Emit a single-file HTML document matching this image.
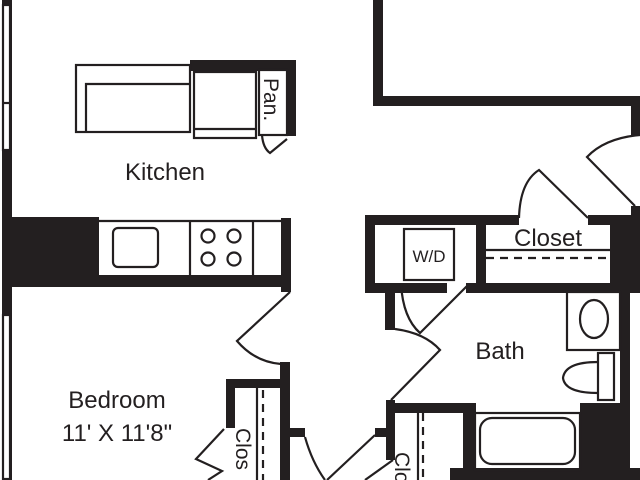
<!DOCTYPE html>
<html><head><style>html,body{margin:0;background:#fff;width:640px;height:480px;overflow:hidden}svg{display:block;overflow:hidden}text{font-family:"Liberation Sans",sans-serif;fill:#231f20}</style></head><body>
<svg width="640" height="480" viewBox="0 0 640 480" xmlns="http://www.w3.org/2000/svg">
<g fill="#231f20" stroke="none">
<rect x="2" y="0" width="10" height="152"/>
<rect x="2" y="150" width="10" height="165"/>
<rect x="2" y="313" width="10" height="167"/>
<rect x="10" y="217" width="89" height="70"/>
<rect x="10" y="275" width="281" height="12"/>
<rect x="281" y="218" width="10" height="74"/>
<rect x="190" y="60" width="106" height="11"/>
<rect x="287" y="60" width="9" height="76"/>
<rect x="373" y="0" width="10" height="106"/>
<rect x="373" y="96" width="267" height="10"/>
<rect x="631" y="96" width="9" height="40"/>
<rect x="631" y="206" width="9" height="20"/>
<rect x="365" y="215" width="154" height="10"/>
<rect x="588" y="215" width="52" height="10"/>
<rect x="610" y="215" width="30" height="76"/>
<rect x="365" y="215" width="10" height="77"/>
<rect x="476" y="225" width="10" height="63"/>
<rect x="365" y="283" width="82" height="10"/>
<rect x="466" y="283" width="174" height="10"/>
<rect x="385" y="283" width="10" height="47"/>
<rect x="620" y="290" width="10" height="190"/>
<rect x="386" y="400" width="9" height="60"/>
<rect x="386" y="403" width="90" height="10"/>
<rect x="375" y="428" width="12" height="9"/>
<rect x="463" y="403" width="12" height="77"/>
<rect x="580" y="403" width="50" height="67"/>
<rect x="450" y="468" width="190" height="12"/>
<rect x="226" y="379" width="64" height="9"/>
<rect x="226" y="379" width="9" height="49"/>
<rect x="280" y="362" width="10" height="118"/>
<rect x="290" y="428" width="15" height="9"/>
</g>
<g fill="none" stroke="#231f20" stroke-width="2.2">
<rect x="3" y="5" width="7" height="145" fill="#fff"/>
<line x1="3" y1="103" x2="10" y2="103"/>
<rect x="3" y="315" width="7" height="164" fill="#fff"/>
<rect x="76" y="65" width="114" height="67"/>
<polyline points="86,132 86,84 190,84"/>
<rect x="194" y="72" width="62" height="66"/>
<line x1="194" y1="129" x2="256" y2="129"/>
<rect x="259" y="70" width="28" height="65"/>
<path d="M262,135 Q263,148 270,153 L287,139"/>
<line x1="99" y1="221" x2="281" y2="221"/>
<rect x="113" y="228" width="45" height="39" rx="5"/>
<line x1="190" y1="221" x2="190" y2="275"/>
<line x1="253" y1="221" x2="253" y2="275"/>
<circle cx="208" cy="236" r="6.5"/><circle cx="234" cy="236" r="6.5"/>
<circle cx="208" cy="259" r="6.5"/><circle cx="234" cy="259" r="6.5"/>
<path d="M290,292 L237,341 Q255,362 281,364"/>
<path d="M640,135 Q605,138 587,157 L635,206"/>
<path d="M519,218 Q520,182 539,170 L588,218"/>
<rect x="404" y="229" width="50" height="51"/>
<line x1="486" y1="250" x2="610" y2="250"/>
<line x1="486" y1="258" x2="610" y2="258" stroke-dasharray="8,6"/>
<path d="M401,284 Q403,318 420,333 L468,285"/>
<path d="M395,329 Q425,333 440,350 L391,400"/>
<rect x="567" y="292" width="53" height="58"/>
<ellipse cx="594" cy="319" rx="14" ry="19"/>
<rect x="598" y="353" width="16" height="47"/>
<path d="M598,362 Q565,362 563,378 Q565,393 598,393"/>
<rect x="475" y="413" width="105" height="57"/>
<rect x="480" y="418" width="95" height="46" rx="12"/>
<line x1="257" y1="388" x2="257" y2="480"/>
<line x1="263" y1="390" x2="263" y2="480" stroke-dasharray="8,6"/>
<line x1="418" y1="413" x2="418" y2="480"/>
<line x1="423" y1="413" x2="423" y2="480" stroke-dasharray="8,6"/>
<path d="M224,429 L196,459 L222,471 L208,480"/>
<path d="M305,437 Q312,462 325,480"/>
<line x1="375" y1="435" x2="327" y2="480"/>
<line x1="393" y1="460" x2="365" y2="480"/>
</g>
<g font-size="24">
<text x="165" y="180" text-anchor="middle">Kitchen</text>
<text x="117" y="408" text-anchor="middle">Bedroom</text>
<text x="117" y="441" text-anchor="middle">11' X 11'8"</text>
<text x="500" y="359" text-anchor="middle">Bath</text>
<text x="548" y="246" text-anchor="middle">Closet</text>
<text x="429" y="262" text-anchor="middle" font-size="17">W/D</text>
<text transform="translate(264,78) rotate(90)" font-size="21">Pan.</text>
<text transform="translate(236,428) rotate(90)" font-size="21">Clos</text>
<text transform="translate(395,452) rotate(90)" font-size="21">Clo</text>
</g>
</svg>
</body></html>
